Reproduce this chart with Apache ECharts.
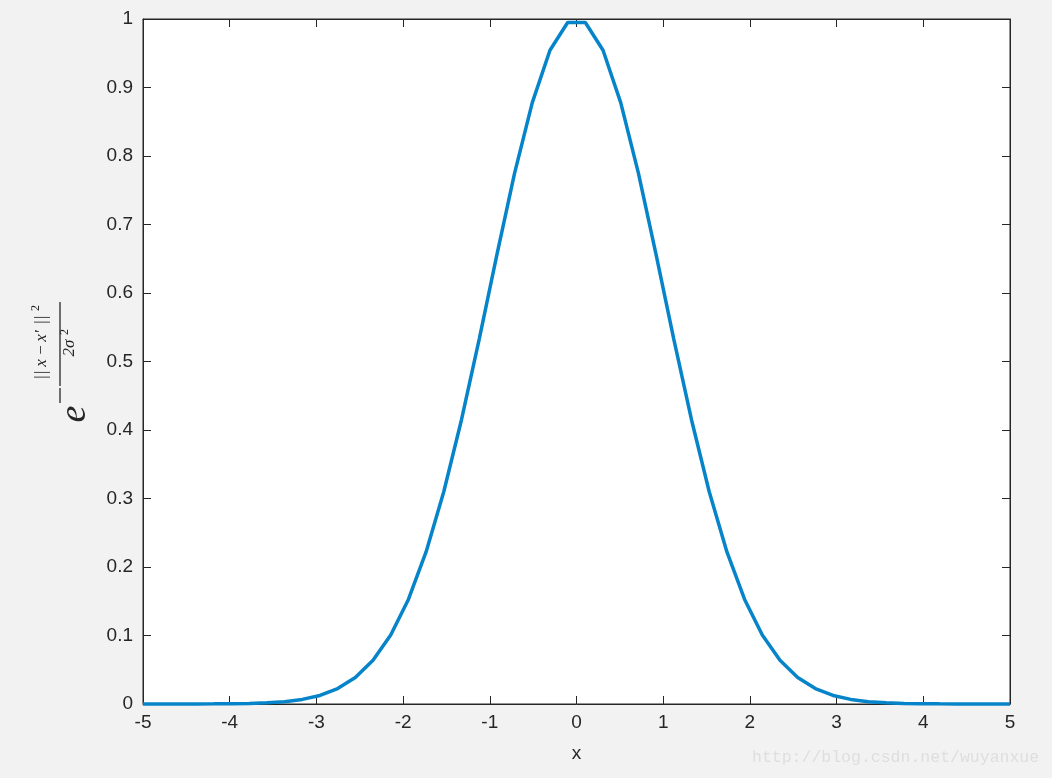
<!DOCTYPE html>
<html>
<head>
<meta charset="utf-8">
<script src="https://cdn.jsdelivr.net/npm/echarts@6/dist/echarts.min.js"></script>
<style>
html,body{margin:0;padding:0;background:#f2f2f2;}
#chart{width:1052px;height:778px;}
</style>
</head>
<body>
<div id="chart"></div>
<script>
// x samples (50 points from -5 to 5)
const xValues = [-5.000,-4.796,-4.592,-4.388,-4.184,-3.980,-3.776,-3.571,-3.367,-3.163,
  -2.959,-2.755,-2.551,-2.347,-2.143,-1.939,-1.735,-1.531,-1.327,-1.122,
  -0.918,-0.714,-0.510,-0.306,-0.102,0.102,0.306,0.510,0.714,0.918,
  1.122,1.327,1.531,1.735,1.939,2.143,2.347,2.551,2.755,2.959,
  3.163,3.367,3.571,3.776,3.980,4.184,4.388,4.592,4.796,5.000];
// values
const yValues = [0.0000,0.0000,0.0000,0.0001,0.0002,0.0004,0.0008,0.0017,0.0034,0.0067,
  0.0125,0.0225,0.0386,0.0637,0.1007,0.1526,0.2220,0.3098,0.4146,0.5328,
  0.6561,0.7749,0.8780,0.9543,0.9948,0.9948,0.9543,0.8780,0.7749,0.6561,
  0.5328,0.4146,0.3098,0.2220,0.1526,0.1007,0.0637,0.0386,0.0225,0.0125,
  0.0067,0.0034,0.0017,0.0008,0.0004,0.0002,0.0001,0.0000,0.0000,0.0000];
const xTicks = [-5,-4,-3,-2,-1,0,1,2,3,4,5];
const yTicks = ['0','0.1','0.2','0.3','0.4','0.5','0.6','0.7','0.8','0.9','1'];
const xAxisTitle = 'x';
const watermark = 'http://blog.csdn.net/wuyanxue';

const axisColor = '#262626';
const font = '"Liberation Sans", Arial, Helvetica, sans-serif';
const serif = '"Liberation Serif", "DejaVu Serif", serif';

const chart = echarts.init(document.getElementById('chart'));
const xMin = xTicks[0], xMax = xTicks[xTicks.length-1], xInt = xTicks[1]-xTicks[0];
const yMin = +yTicks[0], yMax = +yTicks[yTicks.length-1], yInt = +yTicks[1] - +yTicks[0];

function tickAxis(extra){
  return Object.assign({
    axisLine:{show:true,onZero:false,lineStyle:{color:axisColor,width:1}},
    axisTick:{show:true,inside:true,length:8,lineStyle:{color:axisColor,width:1}},
    splitLine:{show:false}
  }, extra);
}

const pairs = xValues.map((x,i)=>[x,yValues[i]]);

function txt(t,u,v,f,align){
  return {type:'text',x:u,y:v,style:{text:t,x:0,y:0,font:f,fill:axisColor,
    align:align||'center',verticalAlign:'middle',textAlign:align||'center',textVerticalAlign:'middle'}};
}
const mainF = 'italic 17px ' + serif;
const supF = '12px ' + serif;

chart.setOption({
  backgroundColor:'#f2f2f2',
  animation:false,
  grid:{left:143,right:42,top:19,bottom:74,show:true,backgroundColor:'#ffffff',borderColor:axisColor,borderWidth:1},
  xAxis:[
    tickAxis({type:'value',position:'bottom',min:xMin,max:xMax,interval:xInt,
      name:xAxisTitle,nameLocation:'middle',nameGap:40,
      nameTextStyle:{color:axisColor,fontSize:19,fontFamily:font},
      axisLabel:{color:axisColor,fontSize:19,fontFamily:font,margin:9}}),
    tickAxis({type:'value',position:'top',min:xMin,max:xMax,interval:xInt,axisLabel:{show:false}})
  ],
  yAxis:[
    tickAxis({type:'value',position:'left',min:yMin,max:yMax,interval:yInt,
      axisLabel:{color:axisColor,fontSize:19,fontFamily:font,margin:10,
        formatter:(v)=>{const i=Math.round((v-yMin)/yInt);return yTicks[i]!==undefined?yTicks[i]:'';}}}),
    tickAxis({type:'value',position:'right',min:yMin,max:yMax,interval:yInt,axisLabel:{show:false}})
  ],
  series:[{
    type:'line',data:pairs,xAxisIndex:0,yAxisIndex:0,
    symbol:'none',smooth:false,clip:false,
    lineStyle:{color:'#0684c9',width:3.5},
    z:3
  }],
  graphic:[
    {type:'group',x:84,y:423,rotation:Math.PI/2,children:[
      txt('e',9,-9,'italic 38px '+serif),
      {type:'line',shape:{x1:20,y1:-24,x2:35,y2:-24},style:{stroke:axisColor,lineWidth:1.3}},
      {type:'line',shape:{x1:37,y1:-24,x2:121,y2:-24},style:{stroke:axisColor,lineWidth:1.3}},
      txt('||',48,-42,mainF),
      txt('x',60,-42,mainF),
      txt('\u2212',73,-42,'17px '+serif),
      txt('x\u2032',87,-42,mainF),
      txt('||',103,-42,mainF),
      txt('2',115,-48,supF),
      txt('2\u03c3',75,-14,mainF),
      txt('2',91,-19,supF)
    ]},
    {type:'text',left:752,top:749,style:{text:watermark,font:'16.5px "Liberation Mono", "DejaVu Sans Mono", monospace',fill:'#dedede'}}
  ]
});
</script>
</body>
</html>
